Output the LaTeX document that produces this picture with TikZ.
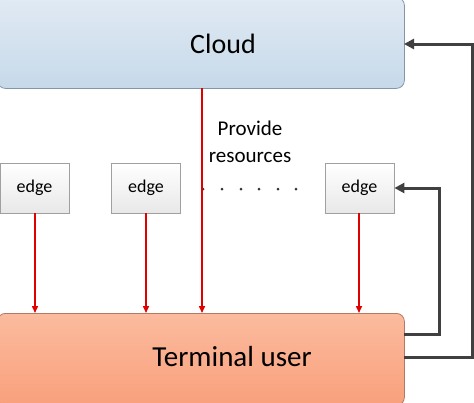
\documentclass[tikz,border=0pt]{standalone}
\usepackage{fontspec}
\setmainfont{Carlito}
\usetikzlibrary{arrows.meta}
\definecolor{cloudtop}{HTML}{E1EAF4}
\definecolor{cloudbot}{HTML}{C6D9E9}
\definecolor{cloudline}{HTML}{8296AA}
\definecolor{termtop}{HTML}{FBBB9E}
\definecolor{termbot}{HTML}{F9A07C}
\definecolor{termline}{HTML}{B47864}
\definecolor{edgebot}{HTML}{E8E8E8}
\definecolor{edgeline}{HTML}{A0A0A0}
\definecolor{conn}{HTML}{404040}
\definecolor{redline}{HTML}{E00000}
\tikzset{
  bigbox/.style={draw=#1, line width=0.8pt, rounded corners=8pt, inner sep=0pt},
  edgebox/.style={draw=edgeline, line width=0.8pt, top color=white, bottom color=edgebot, minimum width=69pt, minimum height=50pt, inner sep=0pt, font=\fontsize{18}{20}\selectfont},
  redarrow/.style={draw=redline, line width=1.5pt, -{Triangle[length=7pt,width=6pt]}},
  grayarrow/.style={draw=conn, line width=3pt, -{Triangle[length=10pt,width=10pt]}},
  dotmark/.style={circle, fill=black!80, inner sep=0pt, minimum size=3pt},
}
\begin{document}
\begin{tikzpicture}[x=1pt,y=-1pt]
\useasboundingbox (0,0) rectangle (474,402);
% Cloud
\node[bigbox=cloudline, top color=cloudtop, bottom color=cloudbot, minimum width=407pt, minimum height=91pt, anchor=north west] (cloud) at (-3,-3) {};
\node[font=\fontsize{28}{32}\selectfont] (cloudtxt) at (223,44) {Cloud};
% Terminal
\node[bigbox=termline, top color=termtop, bottom color=termbot, minimum width=407pt, minimum height=92pt, anchor=north west] (term) at (-3,313) {};
\node[font=\fontsize{29}{32}\selectfont] (termtxt) at (232,357) {Terminal user};
% Edge boxes
\node[edgebox] (e1) at (34.5,188) {edge};
\node[edgebox] (e2) at (146,188) {edge};
\node[edgebox] (e3) at (359.5,188) {edge};
% dots
\foreach \i/\x in {1/203,2/222,3/241,4/259,5/278,6/296}
  \node[dotmark] (d\i) at (\x,189) {};
% Provide resources
\node[font=\fontsize{21}{27}\selectfont, align=center] (prov) at (250,142) {Provide\\resources};
% red arrows
\coordinate (t1) at (35,313);
\coordinate (t2) at (146,313);
\coordinate (t3) at (202,313);
\coordinate (t4) at (359,313);
\coordinate (c3) at (202,88);
\draw[redarrow] (e1.south -| t1) -- (t1);
\draw[redarrow] (e2.south -| t2) -- (t2);
\draw[redarrow] (c3) -- (t3);
\draw[redarrow] (e3.south -| t4) -- (t4);
% gray connectors
\coordinate (a1) at (404,334);
\coordinate (a2) at (404,357);
\coordinate (cl) at (404,44);
\draw[grayarrow] (a1) -- (439,334) -- (439,188) -- (e3.east);
\draw[grayarrow] (a2) -- (472,357) -- (472,44) -- (cl);
\end{tikzpicture}
\end{document}
